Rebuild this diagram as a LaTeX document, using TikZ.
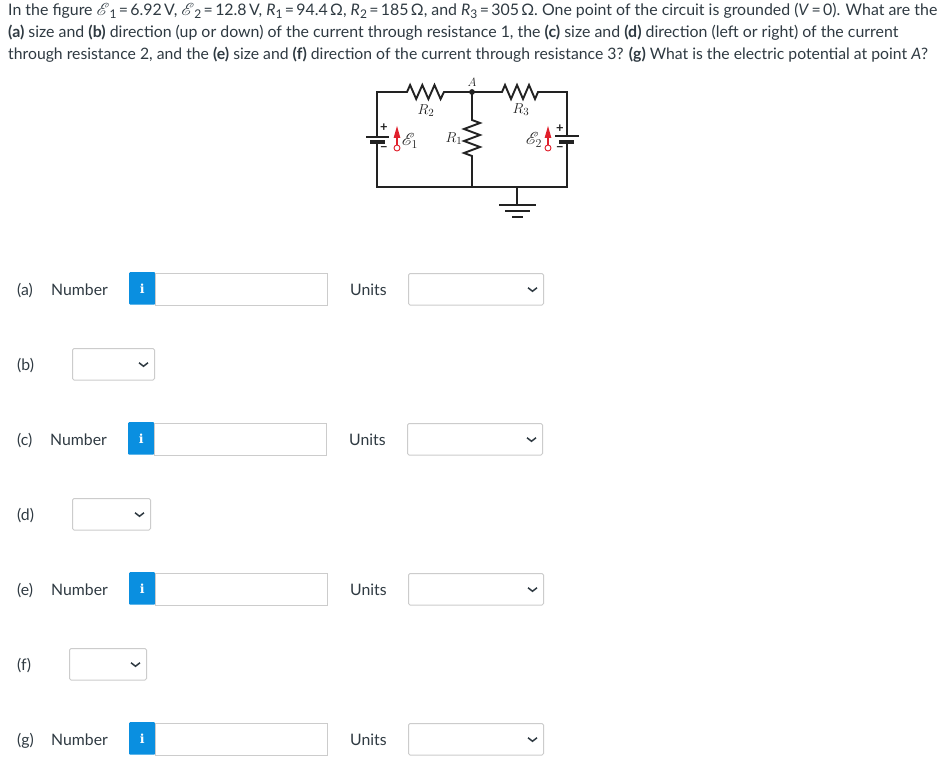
\documentclass[tikz,border=0pt]{standalone}
\usepackage{mathrsfs}
\usepackage{fontspec}
\setmainfont{Lato}
\newfontfamily\iconfont{DejaVu Serif}
\definecolor{ink}{HTML}{2F3A42}
\definecolor{edge}{HTML}{CCCCCC}
\definecolor{infoblue}{HTML}{0A8FE0}
\definecolor{emfred}{HTML}{E0202C}
\definecolor{wire}{HTML}{222222}
\newcommand{\sE}{$\mathscr{E}$}
\newcommand{\subn}[1]{\raisebox{-3pt}{\fontsize{12}{14}\selectfont #1}}
\newcommand{\ns}{\hspace{2.35pt}}
\tikzset{
  stmt/.style={anchor=base west,inner sep=0pt,font=\fontsize{15.9}{18}\selectfont,text=ink},
  lbl/.style={anchor=base west,inner sep=0pt,font=\fontsize{15.8}{18}\selectfont,text=ink},
  field/.style={draw=edge,line width=1pt,fill=white,anchor=north west,inner sep=0pt,minimum height=32pt},
  infobox/.style={fill=infoblue,anchor=north west,inner sep=0pt,minimum width=26pt,minimum height=32.5pt,rounded corners=1pt,text=white,font=\iconfont\bfseries\fontsize{12.5}{14}\selectfont},
  selectbox/.style={draw=edge,line width=1pt,fill=white,anchor=north west,inner sep=0pt,minimum height=31.5pt,rounded corners=1.5pt},
  chev/.style={draw=ink,line width=1.5pt},
  wirepath/.style={draw=wire,line width=1.9pt,line join=miter},
  plate/.style={draw=wire,line width=2.2pt},
  thickplate/.style={draw=wire,line width=3.4pt},
  circ/.style={font=\fontsize{15.5}{17}\selectfont,text=wire,inner sep=0pt},
  emflab/.style={font=\fontsize{17}{19}\selectfont,text=wire,inner sep=0pt},
  sign/.style={font=\bfseries\fontsize{13}{14}\selectfont,text=wire,inner sep=0pt},
  emf/.style={draw=emfred,line width=1.7pt},
  emfhead/.style={fill=emfred,draw=none},
  ring/.style={circle,draw=emfred,line width=0.9pt,fill=white,inner sep=0pt,minimum size=6pt},
}
\newcommand{\chevron}[1]{\draw[chev] ([xshift=-16pt,yshift=1.5pt]#1.east) -- ++(4.5,3.5) -- ++(4.5,-3.5);}
\newcommand{\numrow}[3]{%
  \node[lbl] (#1lab) at (17,#3+6) {(#1)};
  \node[lbl] (#1num) at (#2-78,#3+6) {Number};
  \node[infobox] (#1info) at (#2,#3-17) {i};
  \node[field,minimum width=172pt] (#1in) at (#2+26,#3-16.5) {};
  \node[lbl] (#1units) at (#2+221,#3+6) {Units};
  \node[selectbox,minimum width=135pt] (#1sel) at (#2+279,#3-16) {};
  \chevron{#1sel}
}
\newcommand{\dirrow}[4]{%
  \node[lbl] (#1lab) at (17,#2+6) {(#1)};
  \node[selectbox,minimum width=#4 pt] (#1sel) at (#3,#2-16) {};
  \chevron{#1sel}
}
\begin{document}
\begin{tikzpicture}[x=1pt,y=-1pt]
\useasboundingbox[fill=white] (0,0) rectangle (948,778);
% statement
\node[stmt] (line1) at (8,16) {In the figure \sE\subn{1}\ns=\ns6.92\ns V, \sE\subn{2}\ns=\ns12.8\ns V, \textit{R}\subn{1}\ns=\ns94.4\ns Ω, \textit{R}\subn{2}\ns=\ns185\ns Ω, and \textit{R}\subn{3}\ns=\ns305\ns Ω. One point of the circuit is grounded (\textit{V}\ns=\ns0). What are the};
\node[stmt] (line2) at (8,38) {\textbf{(a)} size and \textbf{(b)} direction (up or down) of the current through resistance 1, the \textbf{(c)} size and \textbf{(d)} direction (left or right) of the current};
\node[stmt,font=\fontsize{15.76}{18}\selectfont] (line3) at (8,60) {through resistance 2, and the \textbf{(e)} size and \textbf{(f)} direction of the current through resistance 3? \textbf{(g)} What is the electric potential at point \textit{A}?};
% circuit corners
\coordinate (tl) at (377,92);
\coordinate (tr) at (567,92);
\coordinate (bl) at (377,187);
\coordinate (br) at (567,187);
\coordinate (A) at (472,92);
\coordinate (bm) at (472,187);
\coordinate (g) at (517,187);
\coordinate (g0) at (517,205);
\coordinate (r2a) at (407,92);
\coordinate (r2b) at (444,92);
\coordinate (r3a) at (502,92);
\coordinate (r3b) at (538,92);
\coordinate (r1a) at (472,120);
\coordinate (r1b) at (472,156);
\coordinate (b1a) at (377,137);
\coordinate (b1b) at (377,142);
\coordinate (b2a) at (567,136);
\coordinate (b2b) at (567,142);
% wires
\draw[wirepath] (b1a) -- (tl) -- (r2a) -- ++(3.1,-7) -- ++(6.1,14) -- ++(6.1,-14) -- ++(6.1,14) -- ++(6.1,-14) -- ++(6.1,14) -- (r2b) -- (A) -- (r3a) -- ++(3,-7) -- ++(6,14) -- ++(6,-14) -- ++(6,14) -- ++(6,-14) -- ++(6,14) -- (r3b) -- (tr) -- (b2a);
\draw[wirepath] (b1b) -- (bl) -- (br) -- (b2b);
\draw[wirepath] (A) -- (r1a) -- ++(8,3) -- ++(-16,6) -- ++(16,6) -- ++(-16,6) -- ++(16,6) -- ++(-16,6) -- (r1b) -- (bm);
\draw[wirepath] (g) -- (g0);
\fill[wire] (A) circle (2.9pt);
% ground
\draw[plate] (499,205) -- (536,205);
\draw[plate] (505,211) -- (530,211);
\draw[plate] (512,217) -- (523,217);
% batteries
\draw[plate] (366,137) -- (389,137);
\draw[thickplate] (370,142) -- (385,142);
\draw[plate] (555,136) -- (579,136);
\draw[thickplate] (559,142) -- (574,142);
\node[sign] (p1) at (384,128) {+};
\node[sign] (m1) at (384,149) {−};
\node[sign] (p2) at (560,129) {+};
\node[sign] (m2) at (560,149) {−};
% emf arrows
\node[ring] (o1) at (397,148) {};
\node[ring] (o2) at (548,148) {};
\coordinate (t1) at (397,126);
\coordinate (t2) at (548,126);
\draw[emf] (o1) -- (397,135);
\draw[emf] (o2) -- (548,135);
\fill[emfhead] (t1) -- ++(3.4,12) -- ++(-6.8,0) -- cycle;
\fill[emfhead] (t2) -- ++(3.4,12) -- ++(-6.8,0) -- cycle;
% circuit labels
\node[emflab] (E1) at (410,141) {$\mathscr{E}_1$};
\node[emflab] (E2) at (534,140) {$\mathscr{E}_2$};
\node[circ] (R2) at (426,111) {$R_2$};
\node[circ] (R3) at (521,110) {$R_3$};
\node[circ] (R1) at (454,139) {$R_1$};
\node[circ,font=\fontsize{12.5}{14}\selectfont] (Alab) at (472,82) {$A$};
% answer rows
\numrow{a}{129}{289}
\dirrow{b}{364}{72}{82}
\numrow{c}{128}{439}
\dirrow{d}{514}{72}{78}
\numrow{e}{129}{589}
\dirrow{f}{664}{69}{77}
\numrow{g}{129}{739}
\end{tikzpicture}
\end{document}
